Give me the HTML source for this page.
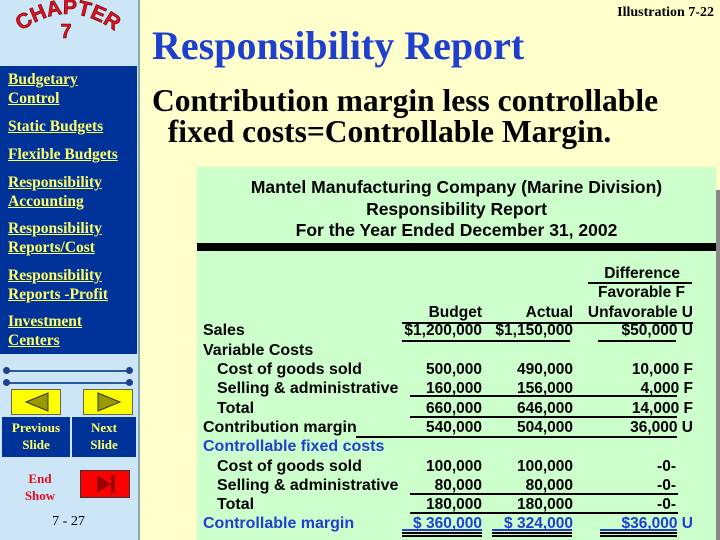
<!DOCTYPE html>
<html><head><meta charset="utf-8"><style>
*{margin:0;padding:0}
body{width:720px;height:540px;position:relative;overflow:hidden;background:#ffffcc;font-family:"Liberation Sans",sans-serif}
.a{position:absolute;white-space:nowrap}
.t{position:absolute;font-weight:bold;font-size:16px;line-height:18px;white-space:nowrap;color:#000}
.r{text-align:right;font-size:15.5px}
.b{color:#1f3fd0}
.l{position:absolute;height:1.5px;background:#000}
.nav{position:absolute;left:8px;font-family:"Liberation Serif",serif;font-weight:bold;font-size:15.5px;color:#ffff66;text-decoration:underline;line-height:19px}
</style></head><body>
<!-- sidebar -->
<div class="a" style="left:0;top:0;width:138px;height:540px;background:#cce6f8;border-right:2px solid #8aa"></div>
<svg class="a" style="left:0;top:0" width="138" height="60">
<defs><path id="arc" d="M6,44 Q68,-16 130,44"/></defs>
<text font-family="Liberation Sans" font-weight="bold" font-size="21" fill="#e01020" stroke="#600" stroke-width="0.6"><textPath href="#arc" startOffset="50%" text-anchor="middle">CHAPTER</textPath></text>
<text x="66" y="38" text-anchor="middle" font-family="Liberation Sans" font-weight="bold" font-size="20" fill="#e01020" stroke="#600" stroke-width="0.6">7</text>
</svg>
<div class="a" style="left:0;top:66px;width:137px;height:288px;background:#003399"></div>
<div class="nav" style="top:70px">Budgetary<br>Control</div>
<div class="nav" style="top:117px">Static Budgets</div>
<div class="nav" style="top:145px">Flexible Budgets</div>
<div class="nav" style="top:173px">Responsibility<br>Accounting</div>
<div class="nav" style="top:219px">Responsibility<br>Reports/Cost</div>
<div class="nav" style="top:266px">Responsibility<br>Reports -Profit</div>
<div class="nav" style="top:312px">Investment<br>Centers</div>
<div class="a" style="left:6px;top:370px;width:124px;height:2px;background:#2c5a9c"></div>
<div class="a" style="left:6px;top:382px;width:124px;height:2px;background:#2c5a9c"></div>
<div class="a" style="left:3px;top:367px;width:7px;height:7px;border-radius:50%;background:#1f3f8f"></div>
<div class="a" style="left:126px;top:367px;width:7px;height:7px;border-radius:50%;background:#1f3f8f"></div>
<div class="a" style="left:3px;top:379px;width:7px;height:7px;border-radius:50%;background:#1f3f8f"></div>
<div class="a" style="left:126px;top:379px;width:7px;height:7px;border-radius:50%;background:#1f3f8f"></div>
<div class="a" style="left:11px;top:389px;width:48px;height:24px;background:#ffff00;border:1px solid #665"></div>
<svg class="a" style="left:11px;top:389px" width="50" height="26"><polygon points="15,13 37,4 37,22" fill="#999900" stroke="#333" stroke-width="1"/></svg>
<div class="a" style="left:83px;top:389px;width:48px;height:24px;background:#ffff00;border:1px solid #665"></div>
<svg class="a" style="left:83px;top:389px" width="50" height="26"><polygon points="15,4 37,13 15,22" fill="#999900" stroke="#333" stroke-width="1"/></svg>
<div class="a" style="left:2px;top:417px;width:68px;height:38px;background:#003399;color:#ffff66;font:bold 13px/17px 'Liberation Serif',serif;text-align:center;padding-top:2px">Previous<br>Slide</div>
<div class="a" style="left:72px;top:417px;width:64px;height:38px;background:#003399;color:#ffff66;font:bold 13px/17px 'Liberation Serif',serif;text-align:center;padding-top:2px">Next<br>Slide</div>
<div class="a" style="left:16px;top:470px;width:48px;color:#dd1020;font:bold 13px/17px 'Liberation Serif',serif;text-align:center">End<br>Show</div>
<div class="a" style="left:80px;top:470px;width:48px;height:26px;background:#ff0000;border:1px solid #333"></div>
<svg class="a" style="left:80px;top:470px" width="50" height="28"><polygon points="17,5 31,14 17,23" fill="#990000"/><rect x="31" y="5" width="4" height="18" fill="#990000"/></svg>
<div class="a" style="left:0;top:514px;width:137px;text-align:center;font:14px 'Liberation Serif',serif">7 - 27</div>
<!-- header -->
<div class="a" style="right:6px;top:5px;font:bold 14px 'Liberation Serif',serif">Illustration 7-22</div>
<div class="a" style="left:152px;top:24px;font:bold 40px/44px 'Liberation Serif',serif;color:#1f3fd0">Responsibility Report</div>
<div class="a" style="left:152px;top:85px;font:bold 31.5px/31px 'Liberation Serif',serif">Contribution margin less controllable<br>&nbsp;&nbsp;fixed costs=Controllable Margin.</div>
<!-- table box -->
<div class="a" style="left:716px;top:190px;width:4px;height:350px;background:#888"></div>
<div class="a" style="left:197px;top:167px;width:519px;height:373px;background:#ccffcc"></div>
<div class="a" style="left:197px;top:243px;width:519px;height:8px;background:#000"></div>
<div class="t" style="left:197px;width:519px;top:177px;text-align:center;line-height:21.5px;font-size:17.5px">Mantel Manufacturing Company (Marine Division)<br>Responsibility Report<br>For the Year Ended December 31, 2002</div>

<div class="t r" style="left:560px;width:120px;top:265px">Difference</div>
<div class="t r" style="left:560px;width:125px;top:284px">Favorable F</div>
<div class="t r" style="left:380px;width:102px;top:304px">Budget</div>
<div class="t r" style="left:480px;width:93px;top:304px">Actual</div>
<div class="t r" style="left:560px;width:133px;top:304px">Unfavorable U</div>

<div class="t" style="left:203px;top:322px">Sales</div>
<div class="t" style="left:203px;top:342px">Variable Costs</div>
<div class="t" style="left:217px;top:361px">Cost of goods sold</div>
<div class="t" style="left:217px;top:380px">Selling &amp; administrative</div>
<div class="t" style="left:217px;top:400px">Total</div>
<div class="t" style="left:203px;top:419px">Contribution margin</div>
<div class="t b" style="left:203px;top:438px">Controllable fixed costs</div>
<div class="t" style="left:217px;top:458px">Cost of goods sold</div>
<div class="t" style="left:217px;top:477px">Selling &amp; administrative</div>
<div class="t" style="left:217px;top:496px">Total</div>
<div class="t b" style="left:203px;top:515px">Controllable margin</div>

<div class="t r" style="left:380px;width:102px;top:322px">$1,200,000</div>
<div class="t r" style="left:480px;width:93px;top:322px">$1,150,000</div>
<div class="t r" style="left:580px;width:113px;top:322px">$50,000 U</div>

<div class="t r" style="left:380px;width:102px;top:361px">500,000</div>
<div class="t r" style="left:480px;width:93px;top:361px">490,000</div>
<div class="t r" style="left:580px;width:113px;top:361px">10,000 F</div>
<div class="t r" style="left:380px;width:102px;top:380px">160,000</div>
<div class="t r" style="left:480px;width:93px;top:380px">156,000</div>
<div class="t r" style="left:580px;width:113px;top:380px">4,000 F</div>
<div class="t r" style="left:380px;width:102px;top:400px">660,000</div>
<div class="t r" style="left:480px;width:93px;top:400px">646,000</div>
<div class="t r" style="left:580px;width:113px;top:400px">14,000 F</div>
<div class="t r" style="left:380px;width:102px;top:419px">540,000</div>
<div class="t r" style="left:480px;width:93px;top:419px">504,000</div>
<div class="t r" style="left:580px;width:113px;top:419px">36,000 U</div>

<div class="t r" style="left:380px;width:102px;top:458px">100,000</div>
<div class="t r" style="left:480px;width:93px;top:458px">100,000</div>
<div class="t r" style="left:580px;width:96px;top:458px">-0-</div>
<div class="t r" style="left:380px;width:102px;top:477px">80,000</div>
<div class="t r" style="left:480px;width:93px;top:477px">80,000</div>
<div class="t r" style="left:580px;width:96px;top:477px">-0-</div>
<div class="t r" style="left:380px;width:102px;top:496px">180,000</div>
<div class="t r" style="left:480px;width:93px;top:496px">180,000</div>
<div class="t r" style="left:580px;width:96px;top:496px">-0-</div>
<div class="t r b" style="left:380px;width:102px;top:515px">$ 360,000</div>
<div class="t r b" style="left:480px;width:93px;top:515px">$ 324,000</div>
<div class="t r b" style="left:580px;width:113px;top:515px">$36,000 U</div>

<div class="l" style="left:588px;width:104px;top:282px"></div>
<div class="l" style="left:402px;width:291px;top:322px"></div>
<div class="l" style="left:402px;width:168px;top:340px"></div>
<div class="l" style="left:598px;width:78px;top:340px"></div>
<div class="l" style="left:410px;width:267px;top:395px"></div>
<div class="l" style="left:410px;width:267px;top:416px"></div>
<div class="l" style="left:356px;width:321px;top:436px"></div>
<div class="l" style="left:410px;width:268px;top:493px"></div>
<div class="l" style="left:410px;width:268px;top:512px"></div>
<div class="l" style="left:402px;width:80px;top:529px;background:#1f3fd0"></div>
<div class="l" style="left:492px;width:80px;top:529px;background:#1f3fd0"></div>
<div class="l" style="left:600px;width:77px;top:529px;background:#1f3fd0"></div>
<div class="l" style="left:402px;width:80px;top:532px"></div>
<div class="l" style="left:492px;width:80px;top:532px"></div>
<div class="l" style="left:600px;width:77px;top:532px"></div>
<div class="l" style="left:402px;width:80px;top:535px"></div>
<div class="l" style="left:492px;width:80px;top:535px"></div>
<div class="l" style="left:600px;width:77px;top:535px"></div>
</body></html>
